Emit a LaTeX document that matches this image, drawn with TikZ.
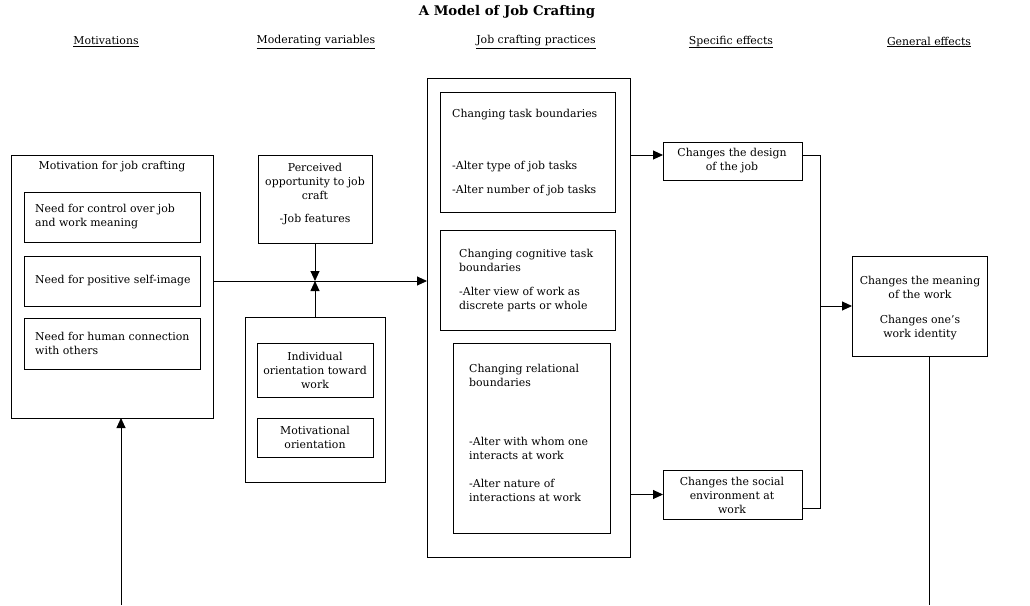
\documentclass[tikz,border=0pt]{standalone}
\usepackage{fontspec}
\setmainfont{DejaVu Serif}
\usetikzlibrary{arrows.meta}
\newcommand{\fs}{\fontsize{10.9}{14}\selectfont}
\tikzset{
  box/.style={draw, line width=0.9pt, inner sep=0pt, outer sep=0pt},
  txt/.style={inner sep=0pt, font=\fs, align=left},
  ctxt/.style={inner sep=0pt, font=\fs, align=center},
  hdr/.style={inner sep=0pt, font=\fs},
  conn/.style={line width=0.9pt},
  arr/.style={line width=0.9pt, -{Triangle[length=10pt,width=9pt]}}
}
\newcommand{\bx}[5]{\node[box, minimum width=#4pt-#2pt, minimum height=#5pt-#3pt] (#1) at ({(#2+#4)/2},{(#3+#5)/2}) {};}
\begin{document}
\begin{tikzpicture}[x=1pt,y=-1pt]
\useasboundingbox (0,0) rectangle (1030,605);
% title and headers
\node[inner sep=0pt, font=\fontsize{13.3}{15}\selectfont\bfseries] (title) at (507,12) {A Model of Job Crafting};
\node[hdr] (h1) at (106,42) {\underline{Motivations}};
\node[hdr] (h2) at (316,42) {\underline{Moderating variables}};
\node[hdr] (h3) at (536,42) {\underline{Job crafting practices}};
\node[hdr] (h4) at (731,42) {\underline{Specific effects}};
\node[hdr] (h5) at (929,42) {\underline{General effects}};
% motivations
\bx{mot}{11}{155}{213}{418}
\node[ctxt] (motT) at (112,167) {Motivation for job crafting};
\bx{m1}{24}{192}{200}{242}
\node[txt, anchor=west] (m1t) at (35,217) {Need for control over job\\and work meaning};
\bx{m2}{24}{256}{200}{306}
\node[txt, anchor=west] (m2t) at (35,281) {Need for positive self-image};
\bx{m3}{24}{318}{200}{369}
\node[txt, anchor=west] (m3t) at (35,343) {Need for human connection\\with others};
% moderating
\bx{perc}{258}{155}{372}{243}
\node[ctxt] (percT) at (315,181) {Perceived\\opportunity to job\\craft};
\node[ctxt] (percF) at (315,219) {-Job features};
\bx{lowmod}{245}{317}{385}{482}
\bx{indiv}{257}{343}{373}{397}
\node[ctxt] (indivT) at (315,370) {Individual\\orientation toward\\work};
\bx{motor}{257}{418}{373}{457}
\node[ctxt] (motorT) at (315,437) {Motivational\\orientation};
% job crafting practices
\bx{jc}{427}{78}{630}{557}
\bx{task}{440}{92}{615}{212}
\node[txt, anchor=west] (taskT) at (452,115) {Changing task boundaries};
\node[txt, anchor=west] (taskA) at (452,167) {-Alter type of job tasks};
\node[txt, anchor=west] (taskB) at (452,191) {-Alter number of job tasks};
\bx{cog}{440}{230}{615}{330}
\node[txt, anchor=west] (cogT) at (459,260) {Changing cognitive task\\boundaries};
\node[txt, anchor=west] (cogA) at (459,299) {-Alter view of work as\\discrete parts or whole};
\bx{rel}{453}{343}{610}{533}
\node[txt, anchor=west] (relT) at (469,375) {Changing relational\\boundaries};
\node[txt, anchor=west] (relA) at (469,448) {-Alter with whom one\\interacts at work};
\node[txt, anchor=west] (relB) at (469,490) {-Alter nature of\\interactions at work};
% specific effects
\bx{design}{663}{142}{802}{180}
\node[ctxt] (designT) at (732,161) {Changes the design\\of the job};
\bx{social}{663}{470}{802}{519}
\node[ctxt] (socialT) at (732,495) {Changes the social\\environment at\\work};
% general effects
\bx{meaning}{852}{256}{987}{356}
\node[ctxt] (meanA) at (920,287) {Changes the meaning\\of the work};
\node[ctxt] (meanB) at (920,328) {Changes one's\\work identity};
% connectors
\draw[arr] (m2 -| mot.east) -- (m2 -| jc.west);
\draw[arr] (perc.south) -- (perc.south |- m2);
\draw[arr] (lowmod.north) -- (lowmod.north |- m2);
\draw[arr] ([yshift=6pt]design.west -| jc.east) -- ([yshift=6pt]design.west);
\draw[arr] (social.west -| jc.east) -- (social.west);
\coordinate (jn) at (820,306);
\draw[conn] ([yshift=6pt]design.east) -| (jn) |- ([yshift=-13.5pt]social.east);
\draw[arr] (jn) -- (meaning.west);
\coordinate (b1) at (121,605);
\draw[arr] (b1) -- (mot.south -| b1);
\coordinate (b2) at (929,605);
\draw[conn] (meaning.south -| b2) -- (b2);
\end{tikzpicture}
\end{document}
